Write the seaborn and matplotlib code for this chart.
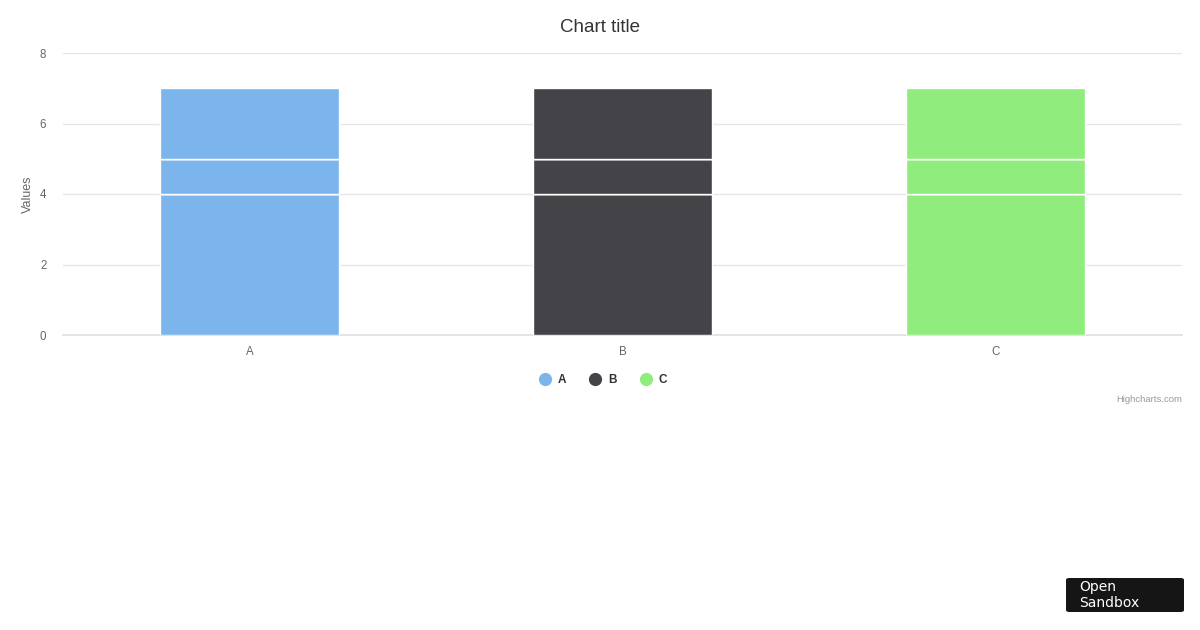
import numpy as np
import pandas as pd
import matplotlib
matplotlib.use("Agg")
import matplotlib.pyplot as plt
from matplotlib.lines import Line2D
from matplotlib.patches import FancyBboxPatch
import seaborn as sns

sns.set_theme(style="white")
plt.rcParams['font.family'] = ['Liberation Sans', 'DejaVu Sans']

# data
categories = ["A", "B", "C"]
colors = ["#7cb5ec", "#434348", "#90ed7d"]
segment_1 = [4, 4, 4]
segment_2 = [1, 1, 1]
segment_3 = [2, 2, 2]
y_ticks = [0, 2, 4, 6, 8]

fig = plt.figure(figsize=(12, 6.3), dpi=100)
ax = fig.add_axes([63 / 1200, 1 - 335 / 630, 1119 / 1200, 282 / 630])

palette = dict(zip(categories, colors))
bottom = np.zeros(len(categories))
for seg in [segment_1, segment_2, segment_3]:
    df = pd.DataFrame({"cat": categories, "val": seg})
    sns.barplot(data=df, x="cat", y="val", hue="cat", palette=palette,
                saturation=1, bottom=bottom, width=0.48, edgecolor="white",
                linewidth=1, legend=False, ax=ax, zorder=3)
    bottom = bottom + np.array(seg)

ax.set_xlim(-0.5, 2.5)
ax.set_ylim(0, 8)
ax.set_yticks(y_ticks)
ax.yaxis.grid(True, color="#e6e6e6", linewidth=1, zorder=0)
ax.set_axisbelow(True)
for s in ["top", "right", "left"]:
    ax.spines[s].set_visible(False)
ax.spines["bottom"].set_color("#e0e0e0")
ax.tick_params(axis="both", length=0, labelsize=8.3, labelcolor="#666666")
ax.tick_params(axis="x", pad=8)
ax.tick_params(axis="y", pad=12)
ax.set_xlabel("")
ax.set_ylabel("Values", fontsize=9, color="#666666", labelpad=4)

fig.text(0.5, 1 - 27 / 630, "Chart title", ha="center", va="center",
         fontsize=13.5, color="#333333")

handles = [Line2D([], [], marker="o", linestyle="", markersize=8.5,
                  markerfacecolor=c, markeredgecolor=c) for c in colors]
leg = fig.legend(handles, categories, loc="center", bbox_to_anchor=(0.5, 1 - 380 / 630),
                 ncol=3, frameon=False, handletextpad=0.05, columnspacing=1.5,
                 prop={"size": 8.5, "weight": "bold"})
for t in leg.get_texts():
    t.set_color("#333333")

fig.text(1182 / 1200, 1 - 400 / 630, "Highcharts.com", ha="right", va="center",
         fontsize=6.8, color="#999999")

box = FancyBboxPatch((1066 / 1200, 1 - 612 / 630), 118 / 1200, 34 / 630,
                     boxstyle="round,pad=0,rounding_size=0.003",
                     transform=fig.transFigure, facecolor="#151515",
                     edgecolor="none")
fig.patches.append(box)
fig.text(1079 / 1200, 1 - 595 / 630, "Open\nSandbox", ha="left", va="center",
         fontsize=10, color="white", family="DejaVu Sans", linespacing=1.25)

fig.savefig("out.png", dpi=100)
